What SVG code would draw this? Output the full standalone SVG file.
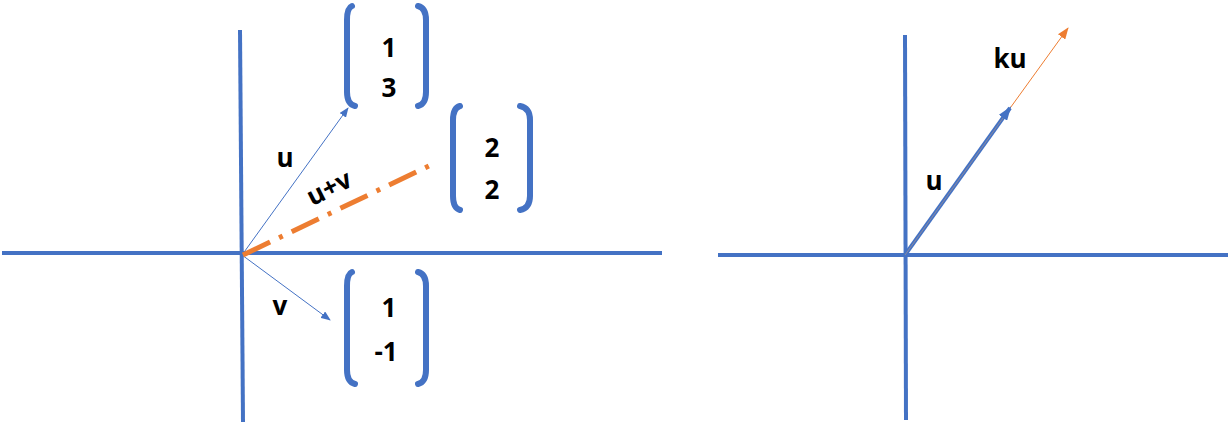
<svg xmlns="http://www.w3.org/2000/svg" width="1228" height="427" viewBox="0 0 1228 427">
<style>
.ax{stroke:#4472c4;stroke-width:4;fill:none}
.br{stroke:#4472c4;stroke-width:6;fill:none;stroke-linecap:round}
.t{font-family:"Open Sans","Liberation Sans",sans-serif;font-weight:bold;font-size:26px;fill:#000;text-anchor:middle}
</style>
<defs>
<marker id="ab" markerWidth="10" markerHeight="8" refX="9" refY="4" orient="auto" markerUnits="userSpaceOnUse" viewBox="0 0 10 8"><path d="M0,0L10,4L0,8z" fill="#4472c4"/></marker>
<marker id="ab2" markerWidth="14" markerHeight="10" refX="12" refY="5" orient="auto" markerUnits="userSpaceOnUse" viewBox="0 0 14 10"><path d="M0,0L14,5L0,10z" fill="#4472c4"/></marker>
<marker id="ao" markerWidth="12" markerHeight="9" refX="11" refY="4.5" orient="auto" markerUnits="userSpaceOnUse" viewBox="0 0 12 9"><path d="M0,0L12,4.5L0,9z" fill="#ed7d31"/></marker>
</defs>
<g id="axes">
<line class="ax" x1="240" y1="30" x2="243" y2="422"/>
<line class="ax" x1="2" y1="253" x2="662" y2="253"/>
<line class="ax" x1="905" y1="35" x2="906" y2="420"/>
<line class="ax" x1="718" y1="255" x2="1228" y2="255"/>
</g>
<g id="connectors">
<line x1="242" y1="255" x2="348" y2="108" stroke="#4472c4" stroke-width="1" marker-end="url(#ab)"/>
<line x1="242" y1="255" x2="330" y2="320" stroke="#4472c4" stroke-width="1" marker-end="url(#ab)"/>
<line x1="243" y1="255" x2="433" y2="164" stroke="#ed7d31" stroke-width="5" stroke-dasharray="30,10,4,10"/>
<line x1="1008" y1="111" x2="1068" y2="28" stroke="#ed7d31" stroke-width="1" marker-end="url(#ao)"/>
<line x1="905" y1="255" x2="1010" y2="108" stroke="#4472c4" stroke-width="4" marker-end="url(#ab2)"/>
<line x1="905" y1="255" x2="1003" y2="118" stroke="#8a8aa0" stroke-width="1"/>
</g>
<g id="m13">
<path class="br" d="M352,6 Q347,8 347,20 L347,92 Q347,104 355,106"/>
<path class="br" d="M418,6 Q426,8 426,20 L426,92 Q426,104 418,106"/>
<text class="t" x="389" y="57">1</text><text class="t" x="389" y="97">3</text>
</g>
<g id="m22">
<path class="br" d="M460,106 Q453,108 453,120 L453,196 Q453,208 460,210"/>
<path class="br" d="M520,106 Q530,108 530,120 L530,196 Q530,208 520,210"/>
<text class="t" x="492" y="157">2</text><text class="t" x="492" y="199">2</text>
</g>
<g id="m1m1">
<path class="br" d="M352,272 Q347,274 347,286 L347,370 Q347,382 355,384"/>
<path class="br" d="M418,272 Q426,274 426,286 L426,370 Q426,382 418,384"/>
<text class="t" x="389" y="317">1</text><text class="t" x="386" y="361">-1</text>
</g>
<g id="labels">
<text class="t" x="285" y="167">u</text>
<text class="t" x="280" y="315">v</text>
<text class="t" transform="translate(333,196) rotate(-27)">u+v</text>
<text class="t" x="1010" y="68">ku</text>
<text class="t" x="934" y="190">u</text>
</g>
</svg>
